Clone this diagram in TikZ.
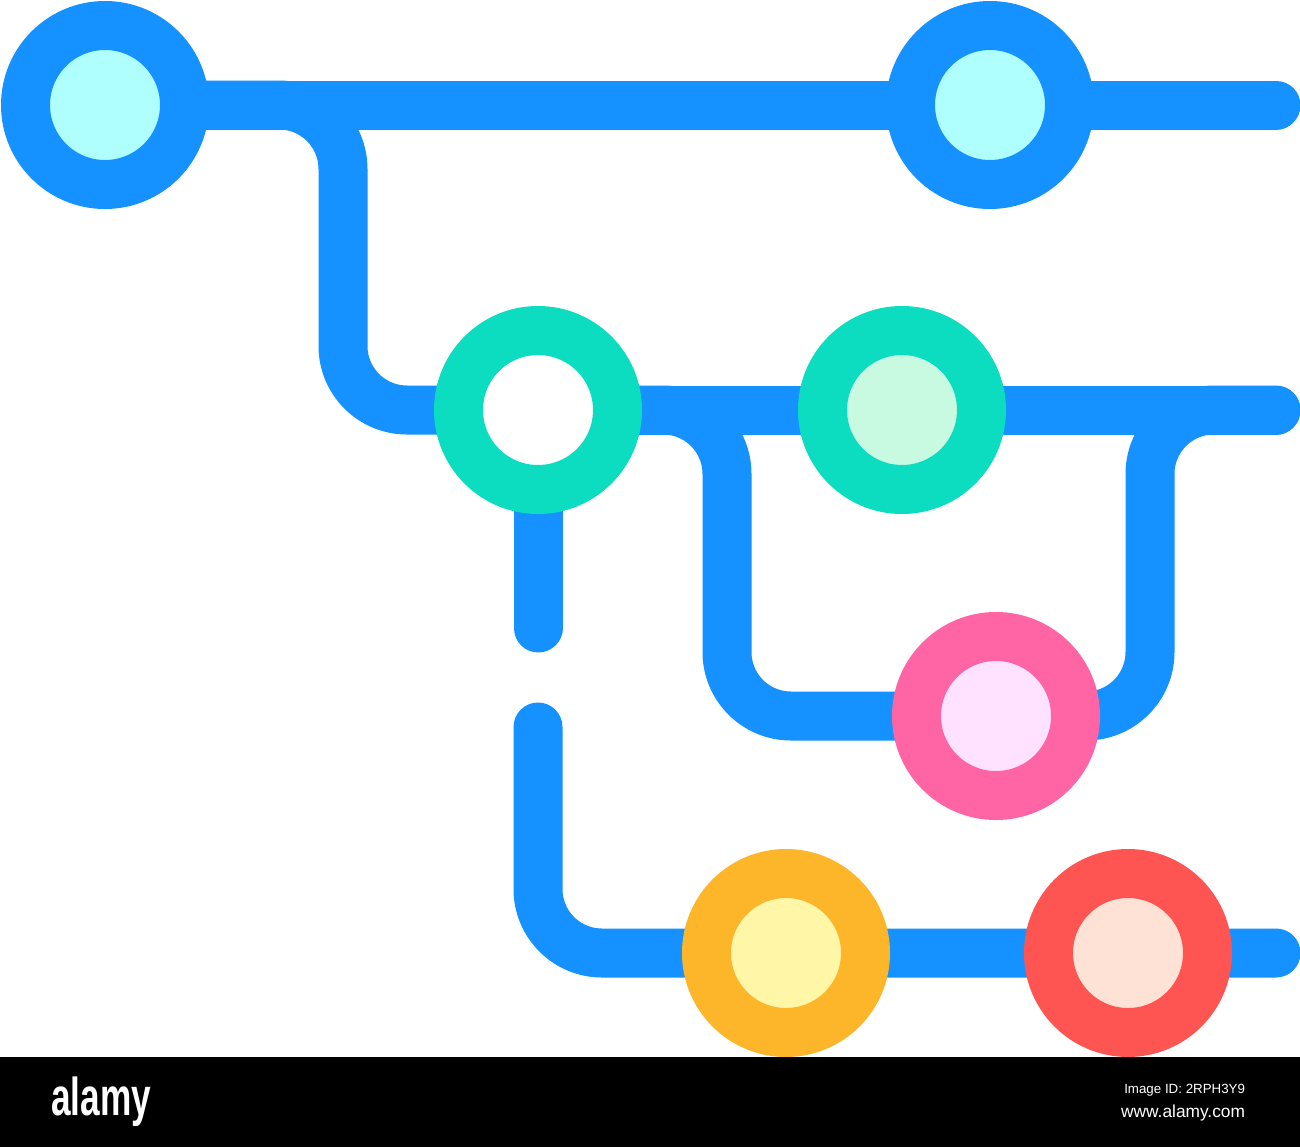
\documentclass[tikz,border=0pt]{standalone}
\usepackage{fontspec}
\setsansfont{Liberation Sans}
\usetikzlibrary{backgrounds}
\definecolor{lineblue}{RGB}{21,146,255}
\definecolor{paleblue}{RGB}{175,255,255}
\definecolor{ringgreen}{RGB}{12,221,192}
\definecolor{palegreen}{RGB}{200,250,225}
\definecolor{ringpink}{RGB}{255,100,165}
\definecolor{palepink}{RGB}{255,226,255}
\definecolor{ringorange}{RGB}{253,182,42}
\definecolor{paleyellow}{RGB}{255,246,168}
\definecolor{ringred}{RGB}{255,85,82}
\definecolor{palepeach}{RGB}{255,226,214}
\tikzset{every picture/.style={line width=0.75pt}}
\tikzset{
  stop/.style={circle, draw, line width=36.75pt, inner sep=0pt, minimum size=119.25pt},
  track/.style={draw=lineblue, line width=36.75pt, line cap=round, line join=round, rounded corners=48pt},
}

\begin{document}
\begin{tikzpicture}[x=0.75pt,y=0.75pt,yscale=-1,xscale=1]
\useasboundingbox (0,0) rectangle (1300,1147);

% Stations
\node [stop, draw=lineblue, fill=paleblue] (start) at (105,105) {};
\node [stop, draw=lineblue, fill=paleblue] (top) at (990,105) {};
\node [stop, draw=ringgreen, fill=white] (mid) at (538,410) {};
\node [stop, draw=ringgreen, fill=palegreen] (midr) at (902,410) {};
\node [stop, draw=ringpink, fill=palepink] (loop) at (996,716) {};
\node [stop, draw=ringorange, fill=paleyellow] (low) at (786,953) {};
\node [stop, draw=ringred, fill=palepeach] (lowr) at (1128,953) {};

% Line ends
\coordinate (topend) at (1276,105);
\coordinate (midend) at (1276,410);
\coordinate (lowend) at (1276,953);
\coordinate (stub) at (538,628);
\coordinate (drop) at (538,727);

\begin{scope}[on background layer]
\fill [white] (0,0) rectangle (1300,1147);
% Tracks
\draw [track] (start.center) -- (top.center) -- (topend);
\draw [track] (start.center) -| (343,410) -- (mid.center);
\draw [track] (mid.center) -- (midr.center) -- (midend);
\draw [track] (mid.center) -- (stub);
\draw [track] (mid.center) -| (727,716) -- (loop.center) -| (1150,410) -- (midend);
\draw [track] (drop) |- (low.center) -- (lowr.center) -- (lowend);
\end{scope}

% Footer bar
\fill [black] (0,1057) rectangle (1300,1147);
\node [anchor=west, text=white, font=\sffamily\bfseries\fontsize{40}{40}\selectfont, xscale=0.66] (logo) at (48,1102) {alamy};
\node [anchor=east, text=white, font=\sffamily\fontsize{10}{10}\selectfont] (imgid) at (1250,1090) {Image ID: 2RPH3Y9};
\node [anchor=east, text=white, font=\sffamily\fontsize{13}{13}\selectfont] (site) at (1250,1113) {www.alamy.com};

\end{tikzpicture}
\end{document}
